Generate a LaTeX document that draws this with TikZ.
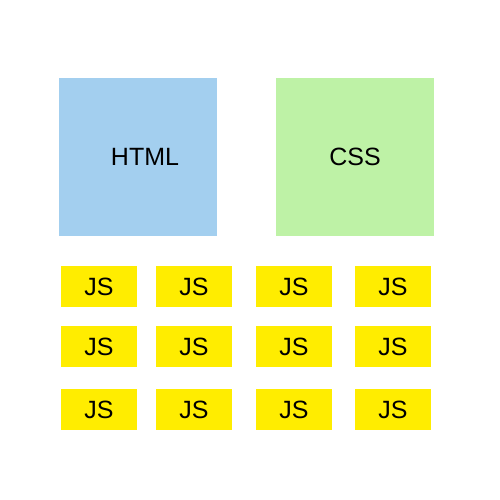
\documentclass[tikz,border=0pt]{standalone}
\usepackage{fontspec}
\setmainfont{Liberation Sans}
\definecolor{htmlblue}{HTML}{A3CFEF}
\definecolor{cssgreen}{HTML}{BEF2A6}
\definecolor{jsyellow}{HTML}{FFED00}
\begin{document}
\begin{tikzpicture}[x=1pt,y=-1pt,
  bigbox/.style={minimum width=158pt,minimum height=158pt,inner sep=0pt,font=\fontsize{25}{29}\selectfont},
  jsbox/.style={fill=jsyellow,minimum width=76pt,minimum height=41pt,inner sep=0pt,font=\fontsize{25}{29}\selectfont}]
\useasboundingbox[fill=white] (0,0) rectangle (500,500);
\node[bigbox,fill=htmlblue,text width=158pt,align=center] (html) at (138,157) {\hspace*{14pt}HTML};
\node[bigbox,fill=cssgreen] (css) at (355,157) {CSS};
\foreach \c/\x in {1/99,2/194,3/294,4/393}{
  \foreach \r/\y in {1/286.5,2/346.5,3/409.5}{
    \node[jsbox] (js\r\c) at (\x,\y) {JS};
  }
}
\end{tikzpicture}
\end{document}
